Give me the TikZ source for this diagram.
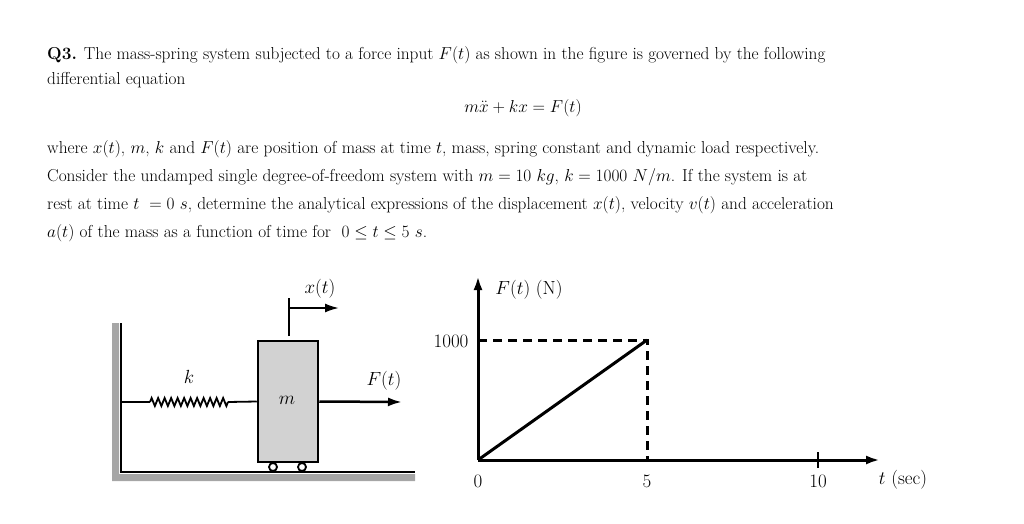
\RequirePackage{fix-cm}
\documentclass[tikz,border=0pt]{standalone}
\usepackage{fontspec}
\usetikzlibrary{decorations.pathmorphing,arrows.meta}
\begin{document}
\begin{tikzpicture}[x=1pt,y=-1pt,
  txt/.style={anchor=base west,inner sep=0pt,font=\fontsize{17.3}{20}\selectfont},
  lbl/.style={inner sep=0pt,font=\fontsize{19}{22}\selectfont},
  thk/.style={line width=3pt},
  arr/.style={-{Latex[length=14pt,width=9pt]}}]
\useasboundingbox (0,0) rectangle (1024,524);
% text
\node[txt] (l1) at (47,60) {\textbf{Q3.} The mass-spring system subjected to a force input $F(t)$ as shown in the figure is governed by the following};
\node[txt] (l2) at (47,85) {differential equation};
\node[txt,anchor=base] (eq) at (523,113) {$m\ddot{x}+kx=F(t)$};
\node[txt] (l3) at (47,153) {where $x(t)$, $m$, $k$ and $F(t)$ are position of mass at time $t$, mass, spring constant and dynamic load respectively.};
\node[txt] (l4) at (47,181) {Consider the undamped single degree-of-freedom system with $m=10\ kg$, $k=1000\ N/m$. If the system is at};
\node[txt] (l5) at (47,209) {rest at time $t\ =0\ s$, determine the analytical expressions of the displacement $x(t)$, velocity $v(t)$ and acceleration};
\node[txt] (l6) at (47,237) {$a(t)$ of the mass as a function of time for $\ 0\le t\le 5\ s$.};
% mass-spring
\fill[gray!70] (112,323) rectangle (119,481) (112,474) rectangle (415,481);
\draw[line width=2.5pt] (121,323) -- (121,472) -- (415,472);
\node[draw,line width=2.5pt,fill=gray!35,minimum width=60pt,minimum height=121pt,inner sep=0pt] (mass) at (288,401.5) {};
\node[lbl] at (287,400) {$m$};
\coordinate (sa) at (150,402); \coordinate (sb) at (228,402);
\draw[line width=1.8pt] (121,402) -- (sa);
\draw[line width=1.8pt,decorate,decoration={zigzag,segment length=6.5pt,amplitude=4pt}] (sa) -- (sb);
\draw[line width=1.8pt] (sb) -- (mass.west);
\node[lbl] at (189,377) {$k$};
\draw[line width=1.8pt,fill=white] (273,467) circle (4) (302,467) circle (4);
\coordinate (fe) at (402,402);
\draw[line width=2.5pt,arr] (mass.east) -- (fe);
\node[lbl] at (384,381) {$F(t)$};
\draw[line width=2.5pt] (289,336) -- (289,298);
\draw[line width=2pt,arr] (289,308) -- (339,308);
\node[lbl] at (320,289) {$x(t)$};
% graph
\coordinate (O) at (478,460);
\draw[thk,arr] (O) -- (880,460);
\draw[thk,arr] (O) -- (478,276);
\draw[thk] (O) -- (647,340);
\draw[thk,dash pattern=on 9pt off 6pt] (478,340) -- (647,340) -- (647,460);
\draw[line width=1.8pt] (818,452) -- (818,468);
\node[lbl] at (451,341) {1000};
\node[lbl] at (478,481) {0};
\node[lbl] at (647,481) {5};
\node[lbl] at (818,481) {10};
\node[lbl] at (903,480) {$t$ (sec)};
\node[lbl] at (529,290) {$F(t)$ (N)};
\end{tikzpicture}
\end{document}
